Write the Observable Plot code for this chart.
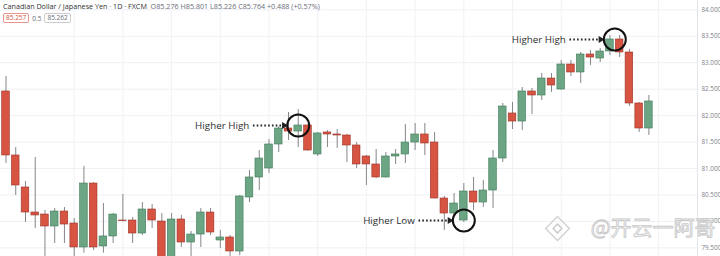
<!DOCTYPE html>
<html>
<head>
<meta charset="utf-8">
<script src="https://cdn.jsdelivr.net/npm/d3@7"></script>
<script src="https://cdn.jsdelivr.net/npm/@observablehq/plot@0.6"></script>
<style>
  html, body { margin: 0; padding: 0; background: #fff; }
  #wrap { position: relative; width: 720px; height: 256px; overflow: hidden; font-family: "Open Sans", sans-serif; }
  #hdr { position: absolute; left: 3px; top: 1px; z-index: 2; font-size: 7.2px; color: #6a6d78; line-height: 11px; white-space: nowrap; }
  #hdr .name { color: #333; }
  #hdr .row2 span { display: inline-block; vertical-align: middle; }
  #hdr .box { border: 1px solid #ccc; border-radius: 2px; padding: 0 2px; line-height: 8px; font-size: 6.5px; }
  #hdr .sell { border-color: #e8948b; color: #d75442; }
  #hdr .spread { margin: 0 3px; font-size: 6.5px; }
</style>
</head>
<body>
<div id="wrap">
  <div id="hdr">
    <div><span class="name">Canadian Dollar / Japanese Yen · 1D · FXCM</span>&nbsp; O85.276 H85.801 L85.226 C85.764 +0.488 (+0.57%)</div>
    <div class="row2"><span class="box sell">85.257</span><span class="spread">0.5</span><span class="box">85.262</span></div>
  </div>
</div>
<script>
// Daily CAD/JPY candles, oldest first
const opens  = [82.456,81.246,80.641,80.168,80.130,79.904,80.187,79.960,79.507,80.716,
                79.526,79.715,80.017,80.017,79.771,80.225,79.998,79.300,80.036,79.601,
                79.752,80.168,79.639,79.696,79.431,80.452,80.830,81.000,81.454,81.756,
                81.699,81.813,81.265,81.681,81.643,81.624,81.435,81.227,81.076,80.830,
                81.227,81.265,81.491,81.643,81.491,80.433,80.149,80.017,80.565,80.357,
                80.584,81.189,82.040,81.888,82.456,82.380,82.701,82.493,82.966,82.815,
                83.155,83.079,83.212,83.439,83.193,82.229,81.756];
const highs  = [82.739,81.397,80.754,81.208,80.206,80.244,80.263,80.055,81.038,80.730,
                80.338,80.149,80.509,80.074,80.357,80.319,80.149,80.149,80.112,79.809,
                80.244,80.244,79.828,79.733,80.490,80.962,81.340,81.548,81.794,82.059,
                82.115,81.832,81.681,81.718,81.737,81.643,81.491,81.246,81.359,81.302,
                81.359,81.832,81.851,81.851,81.681,80.471,80.527,80.716,80.830,80.773,
                81.340,82.229,82.248,82.531,82.512,82.796,82.796,83.042,83.042,83.193,
                83.231,83.268,83.514,83.514,83.250,82.248,82.380];
const lows   = [81.095,80.490,79.979,79.866,79.250,79.582,79.582,79.250,79.400,79.450,
                79.400,79.582,79.990,79.582,79.733,79.866,79.180,79.200,79.507,79.250,
                79.507,79.733,79.488,79.300,79.350,80.357,80.584,80.906,81.302,81.529,
                81.397,81.330,81.227,81.397,81.378,81.113,81.000,80.679,80.811,80.820,
                81.076,81.095,81.340,81.246,80.425,79.828,80.060,79.979,80.206,80.263,
                80.244,81.113,81.737,81.718,82.021,82.285,82.437,82.480,82.739,82.607,
                82.947,83.004,83.136,83.098,82.172,81.681,81.624];
const closes = [81.246,80.679,80.168,80.112,79.904,80.187,79.941,79.507,80.716,79.507,
                79.715,80.130,80.005,79.771,80.225,80.017,79.300,80.036,79.601,79.752,
                80.168,79.790,79.696,79.431,80.471,80.830,81.189,81.454,81.756,81.699,
                81.813,81.340,81.662,81.643,81.624,81.435,81.076,81.076,80.830,81.227,
                81.265,81.491,81.643,81.473,80.433,80.149,80.338,80.565,80.357,80.584,
                81.189,82.172,81.888,82.456,82.380,82.701,82.569,82.966,82.815,83.155,
                83.098,83.212,83.439,83.193,82.229,81.756,82.267];

// Price scale ticks
const priceTicks = [79.5, 80, 80.5, 81, 81.5, 82, 82.5, 83, 83.5, 84];

// Swing-point annotations: bar position (index) and kind
const noteLabels = ["Higher High", "Higher Low", "Higher High"];
const noteBars   = [30, 47, 62.5];
const noteKinds  = ["high", "low", "high"];

const candles = opens.map((o, i) => ({i, open: o, high: highs[i], low: lows[i], close: closes[i]}));

// Pivot price for each note: top of the body for highs, bottom for lows
const notes = noteLabels.map((label, k) => {
  const c = candles[Math.floor(noteBars[k])];
  const price = noteKinds[k] === "high" ? Math.max(c.open, c.close) : Math.min(c.open, c.close);
  return {label, x: noteBars[k], y: price};
});

const UP = "#6ba583", UP_EDGE = "#3f7a58";
const DOWN = "#d75442", DOWN_EDGE = "#9a3327";
const WICK = "#85868b";

const chart = Plot.plot({
  width: 720,
  height: 256,
  marginLeft: 0,
  marginRight: 23,
  marginTop: 0,
  marginBottom: 0,
  style: {fontFamily: "Open Sans, sans-serif", background: "#fff", overflow: "visible"},
  x: {type: "linear", domain: [-0.565, 70.99], axis: null},
  y: {domain: [79.3365, 84.1758], axis: null},
  marks: [
    Plot.gridY(priceTicks, {stroke: "#eef0f4", strokeOpacity: 1}),
    Plot.gridX(d3.range(7, 71, 5), {stroke: "#f1f2f5", strokeOpacity: 1}),
    Plot.ruleX(candles, {x: "i", y1: "low", y2: "high", stroke: WICK, strokeWidth: 1, clip: true}),
    Plot.rect(candles, {
      x1: d => d.i - 0.39, x2: d => d.i + 0.39,
      y1: "open", y2: "close",
      fill: d => d.close >= d.open ? UP : DOWN,
      stroke: d => d.close >= d.open ? UP_EDGE : DOWN_EDGE,
      strokeWidth: 0.6,
      clip: true
    }),
    Plot.axisY(priceTicks, {
      anchor: "right", tickSize: 0, tickPadding: 4,
      tickFormat: d3.format(".3f"), fontSize: 6.3, fill: "#7d8089"
    }),
    Plot.frame({anchor: "right", stroke: "#e3e5ea"}),
    // watermark
    Plot.text(["@开云一阿哥"], {
      frameAnchor: "bottom-right", dx: 18, dy: -28, lineAnchor: "middle",
      fontSize: 21, fontFamily: "Noto Sans CJK SC", fill: "#fff",
      stroke: "#c9c9c9", strokeWidth: 0.9, paintOrder: "fill"
    }),
    Plot.dot([0], {frameAnchor: "bottom-right", dx: -140, dy: -28, symbol: "square", rotate: 45, r: 9.5, fill: "none", stroke: "#d2d2d2", strokeWidth: 1.4}),
    Plot.dot([0], {frameAnchor: "bottom-right", dx: -140, dy: -28, symbol: "square", rotate: 45, r: 3.5, fill: "#fff", stroke: "#c9c9c9", strokeWidth: 1.4}),
    // annotations
    Plot.ruleY(notes, {y: "y", x1: d => d.x - 4.6, x2: d => d.x - 1.6, stroke: "#222", strokeWidth: 2, strokeDasharray: "1.6,2.2"}),
    Plot.dot(notes, {x: d => d.x - 1.45, y: "y", symbol: "triangle", rotate: 90, r: 2.6, fill: "#222"}),
    Plot.text(notes, {x: "x", y: "y", text: "label", dx: -49, textAnchor: "end", fontSize: 9.8, fill: "#2e2e2e", letterSpacing: "0.2px"}),
    Plot.dot(notes, {x: "x", y: "y", r: 11, fill: "none", stroke: "#111", strokeWidth: 2})
  ]
});

document.getElementById("wrap").appendChild(chart);
</script>
</body>
</html>
